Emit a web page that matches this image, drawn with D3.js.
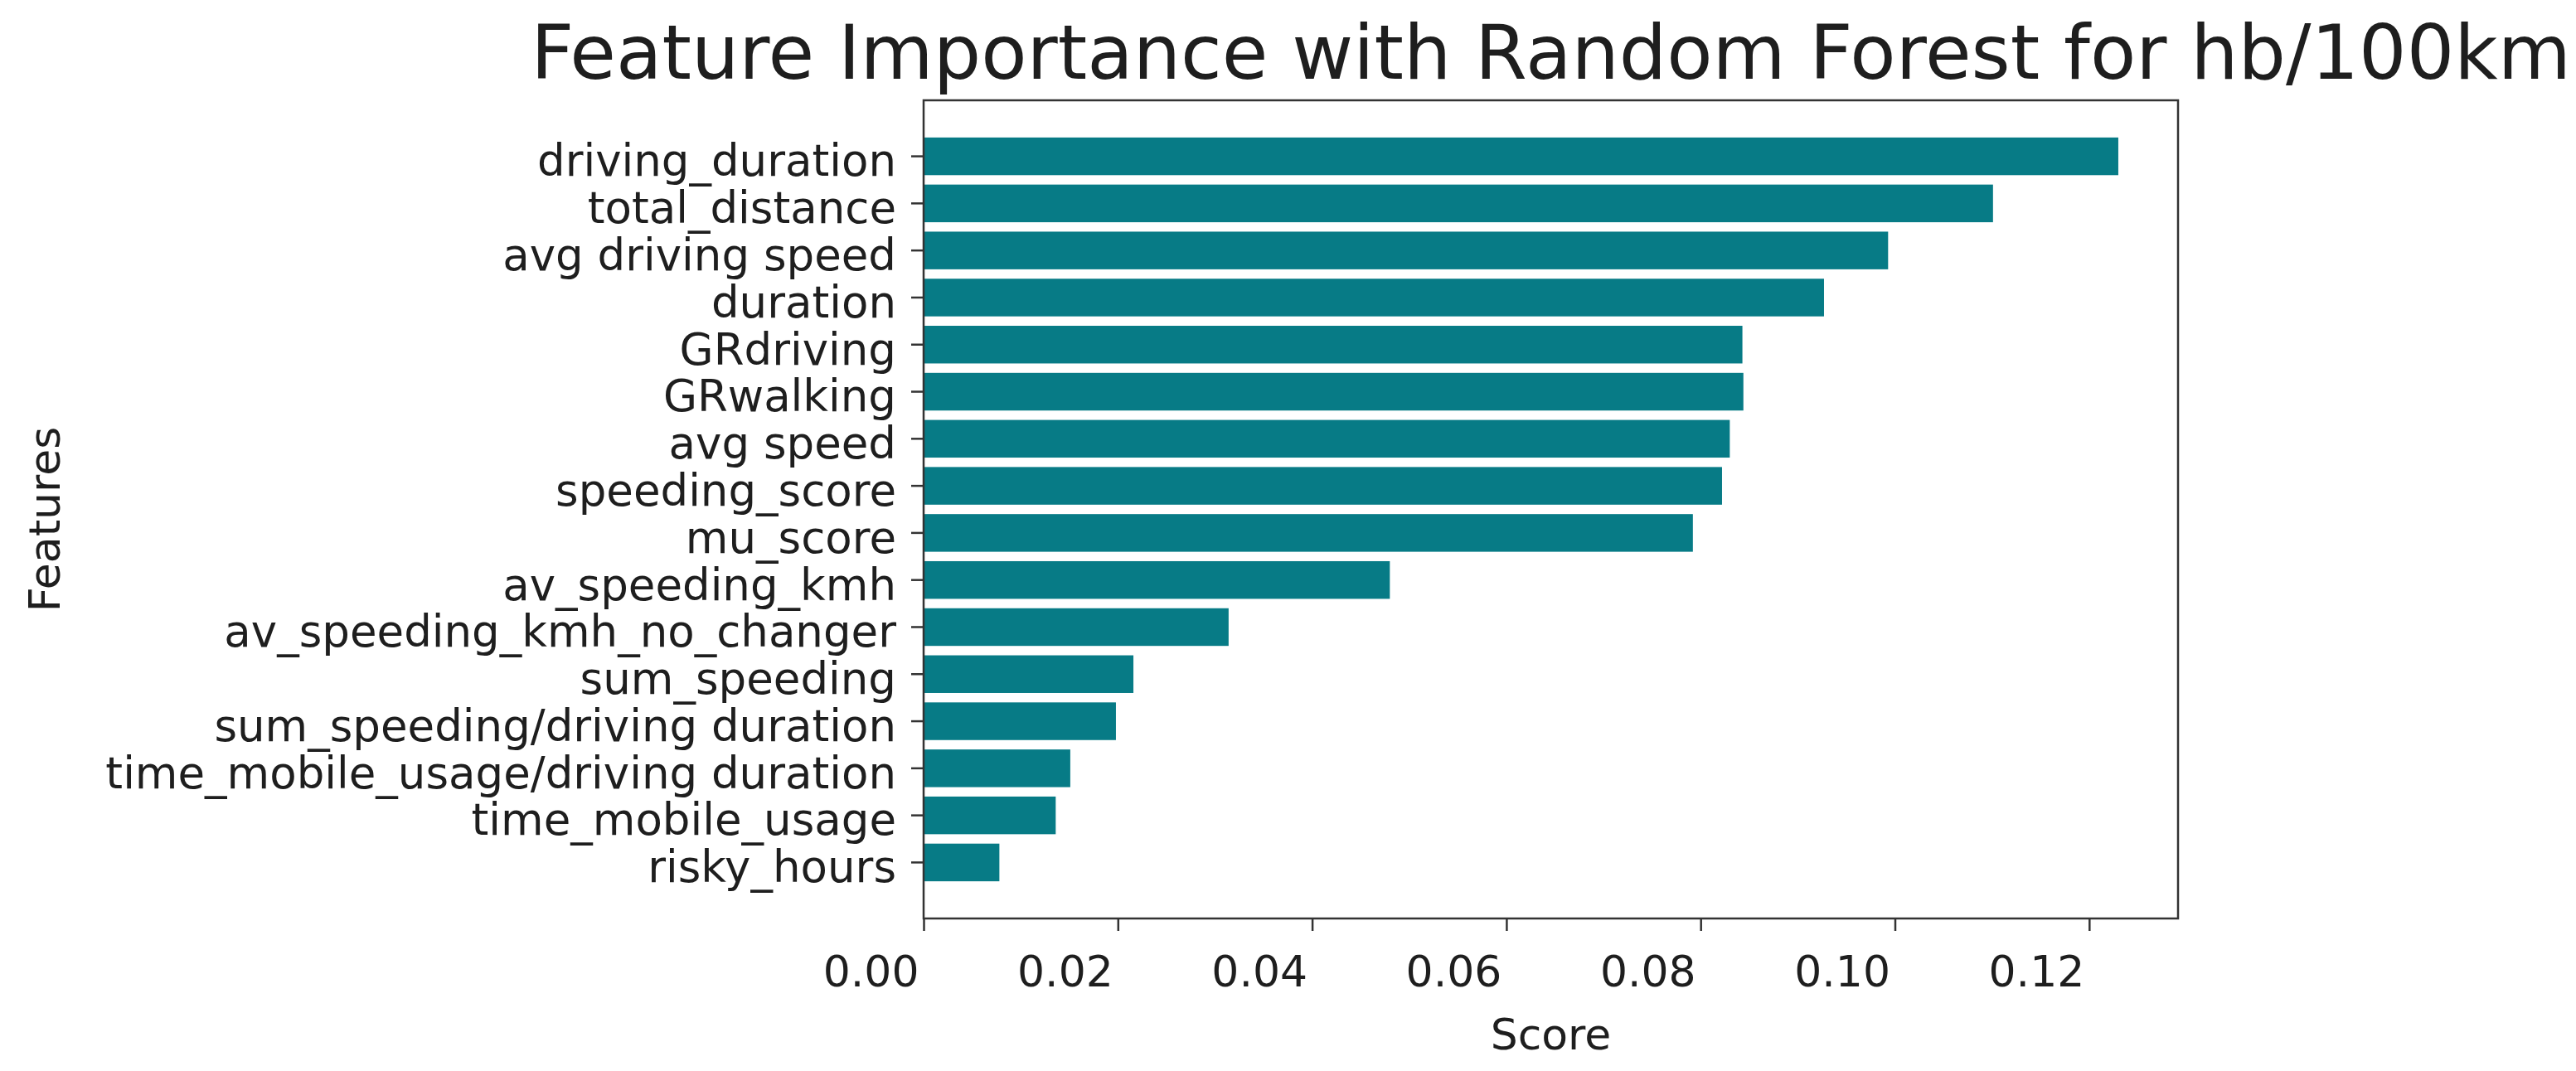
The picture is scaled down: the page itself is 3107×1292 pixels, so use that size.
<!DOCTYPE html>
<html>
<head>
<meta charset="utf-8">
<script src="https://cdn.jsdelivr.net/npm/d3@7"></script>
<style>
  body { margin: 0; background: #fff; }
  text { font-family: "DejaVu Sans", sans-serif; fill: #1e1e1e; }
</style>
</head>
<body>
<script>
// feature names, top to bottom as in the plot
const features = [
  'driving_duration', 'total_distance', 'avg driving speed', 'duration',
  'GRdriving', 'GRwalking', 'avg speed', 'speeding_score', 'mu_score',
  'av_speeding_kmh', 'av_speeding_kmh_no_changer', 'sum_speeding',
  'sum_speeding/driving duration', 'time_mobile_usage/driving duration',
  'time_mobile_usage', 'risky_hours'
]
const scores = [
  0.1230, 0.1101, 0.0993, 0.0927, 0.0843, 0.0844, 0.0830, 0.0822, 0.0792,
  0.0480, 0.0314, 0.0216, 0.0198, 0.0151, 0.0136, 0.0078
]
const xTicks = [0, 0.02, 0.04, 0.06, 0.08, 0.10, 0.12]

const data = features.map((f, i) => ({feature: f, score: scores[i]}))

const W = 3107, H = 1292
const box = {left: 1114, right: 2627, top: 121, bottom: 1108}

const svg = d3.select('body').append('svg')
  .attr('width', W)
  .attr('height', H)

const xScale = d3.scaleLinear()
  .domain([0, d3.max(scores) * 1.05])
  .range([box.left, box.right])

// matplotlib barh: height 0.8, 5% margins on y
const yScale = d3.scaleBand()
  .domain(features)
  .range([box.top, box.bottom])
  .paddingInner(0.2)
  .paddingOuter(0.79)

svg.append('g').selectAll('rect').data(data).join('rect')
  .attr('x', xScale(0))
  .attr('y', d => yScale(d.feature))
  .attr('width', d => xScale(d.score) - xScale(0))
  .attr('height', yScale.bandwidth())
  .attr('fill', '#077b86')

// frame
svg.append('rect')
  .attr('x', box.left).attr('y', box.top)
  .attr('width', box.right - box.left).attr('height', box.bottom - box.top)
  .attr('fill', 'none').attr('stroke', '#333').attr('stroke-width', 2.5)

const xAxis = d3.axisBottom(xScale)
  .tickValues(xTicks)
  .tickFormat(d3.format('.2f'))
  .tickSize(15)
  .tickSizeOuter(0)
const gx = svg.append('g')
  .attr('transform', `translate(0,${box.bottom})`)
  .call(xAxis)
gx.select('.domain').remove()
gx.selectAll('.tick line').attr('stroke', '#333').attr('stroke-width', 2.5)
gx.selectAll('.tick text')
  .attr('text-anchor', 'end')
  .attr('x', -6)
  .attr('y', 82)
  .attr('dy', 0)
  .style('font-size', '52px')

const yAxis = d3.axisLeft(yScale)
  .tickSize(15)
  .tickPadding(18)
  .tickSizeOuter(0)
const gy = svg.append('g')
  .attr('transform', `translate(${box.left},0)`)
  .call(yAxis)
gy.select('.domain').remove()
gy.selectAll('.tick line').attr('stroke', '#333').attr('stroke-width', 2.5)
gy.selectAll('.tick text')
  .attr('dy', '0.45em')
  .style('font-size', '53px')

// title and axis labels
svg.append('text')
  .attr('x', (box.left + box.right) / 2)
  .attr('y', 95)
  .attr('text-anchor', 'middle')
  .style('font-size', '90.5px')
  .text('Feature Importance with Random Forest for hb/100km')

svg.append('text')
  .attr('x', (box.left + box.right) / 2)
  .attr('y', 1266)
  .attr('text-anchor', 'middle')
  .style('font-size', '52px')
  .text('Score')

svg.append('text')
  .attr('transform', `translate(72,${(box.top + box.bottom) / 2 + 12}) rotate(-90)`)
  .attr('text-anchor', 'middle')
  .style('font-size', '52px')
  .text('Features')
</script>
</body>
</html>
